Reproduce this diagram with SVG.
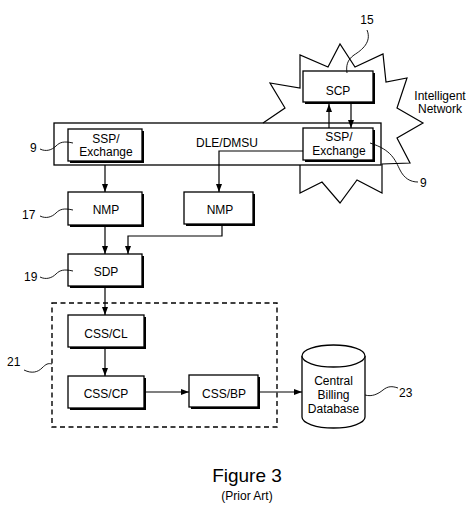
<svg xmlns="http://www.w3.org/2000/svg" width="474" height="524" viewBox="0 0 474 524">
<defs>
<marker id="ah" markerWidth="8" markerHeight="6" refX="8" refY="3" orient="auto" markerUnits="userSpaceOnUse">
<path d="M0,0 L8,3 L0,6 z" fill="#000"/>
</marker>
<style>
text{font-family:"Liberation Sans",Arial,sans-serif;font-size:12px;fill:#000}
.c{text-anchor:middle}
.box{fill:#fff;stroke:#000;stroke-width:1.3}
.sh{fill:#000}
.ln{fill:none;stroke:#000;stroke-width:1.2}
.ar{fill:none;stroke:#000;stroke-width:1.2;marker-end:url(#ah)}
.ld{fill:none;stroke:#000;stroke-width:0.9}
</style>
</defs>
<rect width="474" height="524" fill="#fff"/>

<g id="intelligent-network">
<polyline class="ln" points="263,123 285,108 270,83 300,88 300,55 328,67 340,44 355,67 383,54 386,82 407,78 397,108 423,123 397,138 410,163 382,164 382,193 357,180 340,203 322,182 300,193 300,165"/>
<text class="c" x="440" y="100">Intelligent</text>
<text class="c" x="440" y="113">Network</text>
</g>

<g id="dle-dmsu">
<rect x="54" y="123" width="327" height="42" fill="none" stroke="#000" stroke-width="1.3"/>
<text class="c" x="227" y="147">DLE/DMSU</text>
</g>

<g id="scp">
<rect class="sh" x="305" y="73" width="70" height="31"/>
<rect class="box" x="303" y="71" width="70" height="31"/>
<text class="c" x="338" y="95">SCP</text>
<path class="ld" d="M367,30 C372,42 362,50 354,55 C347,60 346,66 347,73"/>
<text class="c" x="367" y="24">15</text>
</g>

<g id="ssp-right">
<rect class="sh" x="305" y="130" width="70" height="32"/>
<rect class="box" x="303" y="128" width="70" height="32"/>
<text class="c" x="339" y="141">SSP/</text>
<text class="c" x="339" y="155">Exchange</text>
<path class="ld" d="M370,143 C392,150 395,160 400,170 C404,178 410,182 418,182"/>
<text x="420" y="187">9</text>
</g>

<g id="ssp-left">
<rect class="sh" x="70" y="131" width="74" height="32"/>
<rect class="box" x="68" y="129" width="74" height="32"/>
<text class="c" x="106" y="143">SSP/</text>
<text class="c" x="106" y="156">Exchange</text>
<path class="ld" d="M40,149 C46,152 52,150 56,146 S64,141 73,143"/>
<text x="30" y="152">9</text>
</g>

<g id="nmp-1">
<rect class="sh" x="70" y="194" width="74" height="33"/>
<rect class="box" x="68" y="192" width="74" height="33"/>
<text class="c" x="106" y="214">NMP</text>
<path class="ld" d="M40,216 C46,219 52,217 56,213 S64,208 73,210"/>
<text x="22" y="219">17</text>
</g>

<g id="nmp-2">
<rect class="sh" x="186" y="194" width="69" height="32"/>
<rect class="box" x="184" y="192" width="69" height="32"/>
<text class="c" x="220" y="214">NMP</text>
</g>

<g id="sdp">
<rect class="sh" x="70" y="256" width="74" height="32"/>
<rect class="box" x="68" y="254" width="74" height="32"/>
<text class="c" x="106" y="276">SDP</text>
<path class="ld" d="M40,277 C46,280 52,278 56,274 S64,269 73,271"/>
<text x="24" y="281">19</text>
</g>

<g id="billing-system">
<rect x="52" y="303" width="225" height="124" fill="none" stroke="#000" stroke-width="1.4" stroke-dasharray="5,3.5"/>
<path class="ld" d="M24,370 C32,374 38,372 42,368 S48,363 52,364"/>
<text x="7" y="366">21</text>
</g>

<g id="css-cl">
<rect class="sh" x="70" y="317" width="76" height="32"/>
<rect class="box" x="68" y="315" width="76" height="32"/>
<text class="c" x="106" y="338">CSS/CL</text>
</g>

<g id="css-cp">
<rect class="sh" x="70" y="378" width="76" height="32"/>
<rect class="box" x="68" y="376" width="76" height="32"/>
<text class="c" x="106" y="398">CSS/CP</text>
</g>

<g id="css-bp">
<rect class="sh" x="191" y="377" width="69" height="32"/>
<rect class="box" x="189" y="375" width="69" height="32"/>
<text class="c" x="224" y="398">CSS/BP</text>
</g>

<g id="central-billing-database">
<path d="M302,356 L302,417 A31.5,11 0 0 0 365,417 L365,356" fill="#fff" stroke="#000" stroke-width="1.3"/>
<ellipse cx="333.5" cy="356" rx="31.5" ry="11" fill="#fff" stroke="#000" stroke-width="1.3"/>
<text class="c" x="333.5" y="385">Central</text>
<text class="c" x="333.5" y="399">Billing</text>
<text class="c" x="333.5" y="413">Database</text>
<path class="ld" d="M365,395 C372,397 378,394 383,390 S392,386 398,388"/>
<text x="399" y="397">23</text>
</g>

<g id="connectors">
<path class="ar" d="M105,165 L105,192"/>
<path class="ar" d="M303,151 L219,151 L219,192"/>
<path class="ar" d="M105,227 L105,254"/>
<path class="ar" d="M222,226 L222,236 L128,236 L128,254"/>
<path class="ar" d="M105,288 L105,315"/>
<path class="ar" d="M105,349 L105,376"/>
<path class="ar" d="M146,392 L189,392"/>
<path class="ar" d="M260,392 L302,392"/>
<path class="ar" d="M329,128 L329,104"/>
<path class="ar" d="M351,104 L351,128"/>
</g>

<g id="caption">
<text class="c" x="247" y="482" style="font-size:19px">Figure 3</text>
<text class="c" x="247" y="500">(Prior Art)</text>
</g>
</svg>
